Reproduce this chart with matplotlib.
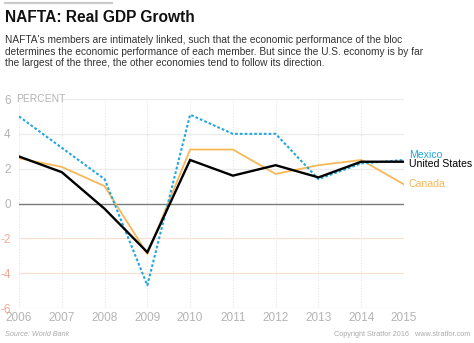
import matplotlib
matplotlib.use("Agg")
import matplotlib.pyplot as plt
import numpy as np

plt.rcParams['font.family'] = ['Liberation Sans', 'DejaVu Sans']

years = [2006, 2007, 2008, 2009, 2010, 2011, 2012, 2013, 2014, 2015]
united_states = [2.7, 1.8, -0.3, -2.8, 2.5, 1.6, 2.2, 1.5, 2.4, 2.4]
canada = [2.6, 2.1, 1.0, -2.9, 3.1, 3.1, 1.7, 2.2, 2.5, 1.1]
mexico = [5.0, 3.2, 1.4, -4.7, 5.1, 4.0, 4.0, 1.4, 2.3, 2.5]
y_ticks = [-6, -4, -2, 0, 2, 4, 6]

title = "NAFTA: Real GDP Growth"
subtitle = ("NAFTA's members are intimately linked, such that the economic performance of the bloc\n"
            "determines the economic performance of each member. But since the U.S. economy is by far\n"
            "the largest of the three, the other economies tend to follow its direction.")

blue = "#22a8de"
orange = "#f6b858"
pos_grid = "#ececec"
neg_grid = "#fbe1d4"
tick_gray = "#b4b4b4"
neg_tick = "#f2a890"

fig = plt.figure(figsize=(4.74, 3.43), dpi=100)
fig.patch.set_facecolor("white")
ax = fig.add_axes([0.0401, 0.102, 0.8122, 0.6093])

ax.set_xlim(years[0], years[-1])
ax.set_ylim(-6, 6)

# horizontal reference lines
for v in y_ticks:
    if v == 0:
        ax.axhline(v, color="#7a7a7a", lw=1.0, zorder=2)
    elif v == 6:
        ax.axhline(v, xmin=1 / 9, color=pos_grid, lw=0.9, zorder=1)
    else:
        ax.axhline(v, color=pos_grid if v > 0 else neg_grid, lw=0.9, zorder=1)

# vertical dotted year lines
for yr in years:
    ax.axvline(yr, color="#e6e6e6", lw=0.8, ls=(0, (1, 1.5)), zorder=1)

ax.plot(years, canada, color=orange, lw=1.3, zorder=3, solid_joinstyle="miter")
ax.plot(years, mexico, color=blue, lw=1.5, ls=(0, (1.3, 1.0)), zorder=4)
ax.plot(years, united_states, color="black", lw=1.7, zorder=5, solid_joinstyle="miter")

for s in ax.spines.values():
    s.set_visible(False)

ax.set_xticks(years)
ax.set_xticklabels([str(y) for y in years], fontsize=8.5, color=tick_gray)
ax.tick_params(axis="x", length=0, pad=3)
ax.set_yticks(y_ticks)
ax.set_yticklabels([str(v) for v in y_ticks], fontsize=8.5)
ax.tick_params(axis="y", length=0, pad=6)
for lab, v in zip(ax.get_yticklabels(), y_ticks):
    lab.set_color(neg_tick if v < 0 else tick_gray)

ax.text(-0.008, 6, "PERCENT", transform=ax.get_yaxis_transform(),
        fontsize=7.5, color=tick_gray, va="center", ha="left")

# series labels at the right end
ax.text(1.013, mexico[-1] + 0.3, "Mexico", transform=ax.get_yaxis_transform(),
        color=blue, fontsize=7.6, va="center", ha="left")
ax.text(1.013, united_states[-1] - 0.15, "United States", transform=ax.get_yaxis_transform(),
        color="black", fontsize=7.6, va="center", ha="left")
ax.text(1.013, canada[-1], "Canada", transform=ax.get_yaxis_transform(),
        color=orange, fontsize=7.6, va="center", ha="left")

# header
fig.add_artist(plt.Line2D([5 / 474, 112 / 474], [1 - 3 / 343, 1 - 3 / 343],
                          color="#cccccc", lw=1.6))
fig.text(5 / 474, 1 - 17 / 343, title, fontsize=11.2, fontweight="bold",
         color="#111111", va="center", ha="left")
fig.text(5 / 474, 1 - 35 / 343, subtitle, fontsize=7.3, color="#333333",
         va="top", ha="left", linespacing=1.2)

# footer
fig.text(5 / 474, 1 - 335 / 343, "Source: World Bank", fontsize=5.2, style="italic",
         color="#aaaaaa", va="center", ha="left")
fig.text(470 / 474, 1 - 335 / 343, "Copyright Stratfor 2016   www.stratfor.com",
         fontsize=5.2, color="#aaaaaa", va="center", ha="right")

fig.savefig("out.png", dpi=100, facecolor="white")
